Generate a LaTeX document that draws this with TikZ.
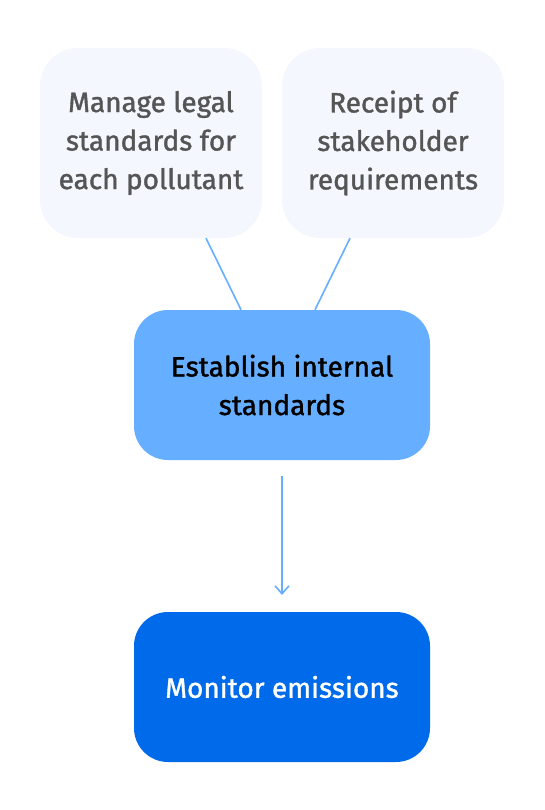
\documentclass[tikz,border=0pt]{standalone}
\usepackage{fontspec}
\setmainfont{Fira Sans}
\newfontfamily\boxfont{Fira Sans}
\usetikzlibrary{arrows.meta}
\definecolor{palebox}{HTML}{F4F7FE}
\definecolor{midblue}{HTML}{66AEFF}
\definecolor{deepblue}{HTML}{006BEA}
\definecolor{greytext}{HTML}{555555}
\begin{document}
\begin{tikzpicture}[x=1pt,y=-1pt,
    inputbox/.style={fill=palebox, rounded corners=38pt, minimum width=222pt, minimum height=190pt,
        align=center, text=greytext, font=\boxfont\fontsize{28}{38.5}\selectfont\addfontfeature{FakeBold=1.3}},
    stagebox/.style={rounded corners=34pt, minimum width=296pt, minimum height=150pt,
        align=center, font=\boxfont\fontsize{28}{38.5}\selectfont\addfontfeature{FakeBold=1.3}},
    link/.style={draw=midblue, line width=1.6pt}]

        \useasboundingbox (0,0) rectangle (544,810);

        \node[inputbox] (legal) at (151,143) {Manage legal\\standards for\\each pollutant};
        \node[inputbox] (stake) at (393,143) {Receipt of\\stakeholder\\requirements};

        \node[stagebox, fill=midblue, text=black] (internal) at (282,385) {Establish internal\\standards};
        \node[stagebox, fill=deepblue, text=white] (monitor) at (282,687) {Monitor emissions};

        \coordinate (legalfoot) at ([xshift=55pt]legal.south);
        \coordinate (stakefoot) at ([xshift=-43pt]stake.south);
        \coordinate (inleft) at ([xshift=-41pt]internal.north);
        \coordinate (inright) at ([xshift=33pt]internal.north);
        \coordinate (arrtop) at (282,476);
        \coordinate (arrend) at (282,595);

        % inputs feed the internal standards
        \draw[link] (legalfoot) -- (inleft);
        \draw[link] (stakefoot) -- (inright);

        \draw[link, -{Straight Barb[length=8pt, width=14pt, line width=1.6pt]}] (arrtop) -- (arrend);
\end{tikzpicture}
\end{document}
